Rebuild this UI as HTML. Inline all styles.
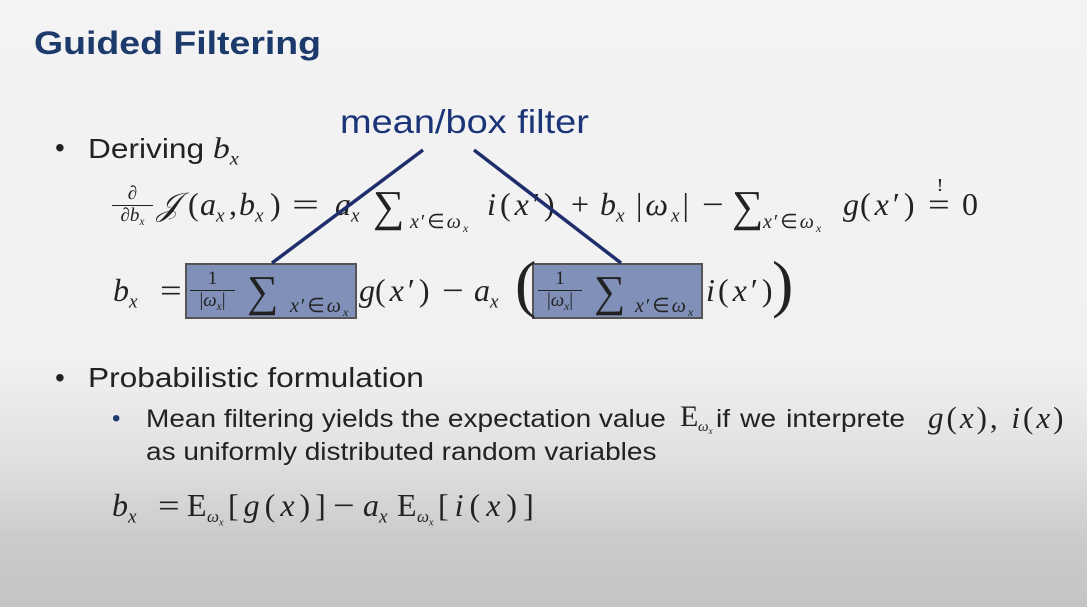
<!DOCTYPE html>
<html><head><meta charset="utf-8"><style>
body{margin:0;width:1087px;height:607px;overflow:hidden;position:relative;font-family:"Liberation Sans",sans-serif;
background:linear-gradient(to bottom,#f3f3f3 0px,#f1f1f1 360px,#e2e2e2 450px,#cbcbcb 540px,#c4c4c4 607px);}
.a{position:absolute;white-space:nowrap;line-height:1;transform-origin:0 0}
.m{font-family:"Liberation Serif",serif;color:#222;font-size:32px}
i{font-style:italic}
sub{font-size:60%;vertical-align:-0.35em}
.box{position:absolute;background:#8090b8;border:2px solid #555;box-sizing:border-box}
.fr{display:inline-block;text-align:center;line-height:1.1;font-size:19px}
.fr span{display:block}
.fr .n{border-bottom:1px solid #222;padding:0 2px}
.sg{font-size:40px}
.sb{font-size:20px;letter-spacing:2px}
.eq{transform:scaleX(1.5)}
</style></head><body>
<div class="a" style="left:34px;top:27px;font-size:32px;font-weight:bold;color:#1c3a6c;transform:scaleX(1.17)">Guided Filtering</div>
<div class="a" style="left:340px;top:105px;font-size:33px;color:#1c3578;transform:scaleX(1.15)">mean/box filter</div>
<div class="a" style="left:55px;top:134px;font-size:28px;color:#222">•</div>
<div class="a" style="left:88px;top:134px;font-size:28px;color:#222;transform:scaleX(1.13)">Deriving <span class="m" style="font-size:30px"><i>b</i><sub><i>x</i></sub></span></div>

<div class="box" style="left:185px;top:263px;width:172px;height:56px"></div>
<div class="box" style="left:532px;top:263px;width:171px;height:56px"></div>

<!-- eq1 -->
<div class="a m fr" style="left:112px;top:184px;width:41px"><span class="n">∂</span><span>∂<i>b<sub>x</sub></i></span></div>
<div class="a m" style="left:157px;top:188px"><i>𝒥</i></div>
<div class="a m" style="left:188px;top:188px">(</div>
<div class="a m" style="left:200px;top:188px"><i>a<sub>x</sub></i></div>
<div class="a m" style="left:229px;top:188px">,</div>
<div class="a m" style="left:239px;top:188px"><i>b<sub>x</sub></i></div>
<div class="a m" style="left:270px;top:188px">)</div>
<div class="a m eq" style="left:292px;top:188px">=</div>
<div class="a m" style="left:335px;top:188px"><i>a<sub>x</sub></i></div>
<div class="a m sg" style="left:373px;top:185px;font-size:44px">∑</div>
<div class="a m sb" style="left:410px;top:212px"><i>x</i>′∈<i>ω<sub>x</sub></i></div>
<div class="a m" style="left:487px;top:188px"><i>i</i></div>
<div class="a m" style="left:500px;top:188px;letter-spacing:4px">(<i>x</i>′)</div>
<div class="a m" style="left:571px;top:188px">+</div>
<div class="a m" style="left:600px;top:188px"><i>b<sub>x</sub></i></div>
<div class="a m" style="left:636px;top:188px;letter-spacing:3px">|<i>ω<sub>x</sub></i>|</div>
<div class="a m" style="left:702px;top:188px;transform:scaleX(1.2)">−</div>
<div class="a m sg" style="left:732px;top:185px;font-size:44px">∑</div>
<div class="a m sb" style="left:763px;top:212px"><i>x</i>′∈<i>ω<sub>x</sub></i></div>
<div class="a m" style="left:843px;top:188px"><i>g</i></div>
<div class="a m" style="left:860px;top:188px;letter-spacing:4px">(<i>x</i>′)</div>
<div class="a m" style="left:928px;top:188px;transform:scaleX(1.2)"><span style="position:absolute;left:7px;top:-12px;font-size:18px">!</span>=</div>
<div class="a m" style="left:962px;top:188px">0</div>

<!-- eq2 -->
<div class="a m" style="left:113px;top:274px"><i>b<sub>x</sub></i></div>
<div class="a m" style="left:160px;top:274px;transform:scaleX(1.2)">=</div>
<div class="a m fr" style="left:190px;top:269px;width:45px"><span class="n">1</span><span>|<i>ω<sub>x</sub></i>|</span></div>
<div class="a m sg" style="left:247px;top:270px;font-size:44px">∑</div>
<div class="a m sb" style="left:290px;top:296px"><i>x</i>′∈<i>ω<sub>x</sub></i></div>
<div class="a m" style="left:359px;top:274px"><i>g</i></div>
<div class="a m" style="left:375px;top:274px;letter-spacing:4px">(<i>x</i>′)</div>
<div class="a m" style="left:442px;top:274px;transform:scaleX(1.2)">−</div>
<div class="a m" style="left:474px;top:274px"><i>a<sub>x</sub></i></div>
<div class="a m" style="left:515px;top:252px;font-size:64px">(</div>
<div class="a m fr" style="left:538px;top:269px;width:44px"><span class="n">1</span><span>|<i>ω<sub>x</sub></i>|</span></div>
<div class="a m sg" style="left:594px;top:270px;font-size:44px">∑</div>
<div class="a m sb" style="left:635px;top:296px"><i>x</i>′∈<i>ω<sub>x</sub></i></div>
<div class="a m" style="left:706px;top:274px"><i>i</i></div>
<div class="a m" style="left:718px;top:274px;letter-spacing:4px">(<i>x</i>′)</div>
<div class="a m" style="left:772px;top:252px;font-size:64px">)</div>

<svg style="position:absolute;left:0;top:0" width="1087" height="607"><line x1="423" y1="150" x2="272" y2="263" stroke="#1f2d6c" stroke-width="3.5"/><line x1="474" y1="150" x2="621" y2="263" stroke="#1f2d6c" stroke-width="3.5"/></svg>

<div class="a" style="left:55px;top:364px;font-size:28px;color:#222">•</div>
<div class="a" style="left:88px;top:364px;font-size:28px;color:#222;transform:scaleX(1.13)">Probabilistic formulation</div>
<div class="a" style="left:112px;top:407px;font-size:24px;color:#1c3a6c">•</div>
<div class="a" style="left:146px;top:407px;font-size:25px;color:#222;transform:scaleX(1.12)">Mean filtering yields the expectation value</div>
<div class="a m" style="left:680px;top:402px;font-size:30px">E</div>
<div class="a m" style="left:698px;top:420px;font-size:15px"><i>ω<sub>x</sub></i></div>
<div class="a" style="left:716px;top:407px;font-size:25px;color:#222;transform:scaleX(1.125);word-spacing:2px">if we interprete</div>
<div class="a m" style="left:928px;top:402px;font-size:31px;letter-spacing:3px"><i>g</i>(<i>x</i>), <i>i</i>(<i>x</i>)</div>
<div class="a" style="left:146px;top:440px;font-size:25px;color:#222;transform:scaleX(1.12)">as uniformly distributed random variables</div>

<div class="a m" style="left:112px;top:489px"><i>b<sub>x</sub></i></div>
<div class="a m" style="left:158px;top:489px;transform:scaleX(1.2)">=</div>
<div class="a m" style="left:187px;top:489px">E</div>
<div class="a m" style="left:207px;top:508px;font-size:17px"><i>ω<sub>x</sub></i></div>
<div class="a m" style="left:228px;top:489px;letter-spacing:5px">[<i>g</i>(<i>x</i>)]</div>
<div class="a m" style="left:333px;top:489px;transform:scaleX(1.2)">−</div>
<div class="a m" style="left:363px;top:489px"><i>a<sub>x</sub></i></div>
<div class="a m" style="left:397px;top:489px">E</div>
<div class="a m" style="left:417px;top:508px;font-size:17px"><i>ω<sub>x</sub></i></div>
<div class="a m" style="left:438px;top:489px;letter-spacing:6px">[<i>i</i>(<i>x</i>)]</div>
</body></html>
